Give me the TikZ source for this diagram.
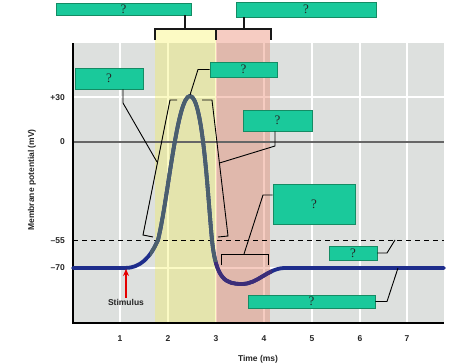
\documentclass[tikz,border=0pt]{standalone}
\usepackage{fontspec}
\setmainfont{Liberation Serif}
\setsansfont{Liberation Sans}
\usetikzlibrary{arrows.meta}
\definecolor{plotbg}{RGB}{221,224,222}
\definecolor{boxfill}{RGB}{26,201,155}
\definecolor{boxline}{RGB}{20,140,100}
\definecolor{cblue}{RGB}{30,45,140}
\definecolor{cslate}{RGB}{75,95,110}
\definecolor{cpurple}{RGB}{60,45,120}
\definecolor{shyellow}{RGB}{245,240,60}
\definecolor{shred}{RGB}{230,110,80}
\tikzset{
  qbox/.style={draw=boxline, line width=0.6pt, fill=boxfill, inner sep=0pt,
    font=\fontsize{13}{13}\selectfont, text=black!85},
  lbl/.style={font=\sffamily\bfseries\fontsize{8.5}{10}\selectfont, text=black!85, inner sep=0pt},
  callout/.style={draw=black, line width=0.9pt},
  brack/.style={draw=black!90, line width=1.4pt},
  grid/.style={draw=white, line width=1.6pt},
}
\def\apcurve{(73,268) -- (125,268) .. controls (140,268) and (150,258) .. (158,240)
  .. controls (168,200) and (177,96) .. (190,96)
  .. controls (203,96) and (208,200) .. (212,240)
  .. controls (216,280) and (226,284) .. (242,284)
  .. controls (258,284) and (268,268) .. (285,268) -- (444,268)}
\begin{document}
\begin{tikzpicture}[x=1pt,y=-1pt]
\useasboundingbox (0,0) rectangle (474,364);
% background
\fill[plotbg] (73,43) rectangle (444,323);
% white grid
\foreach \xx in {120,168,216,264,312,360,407} \draw[grid] (\xx,43) -- (\xx,323);
\draw[grid] (73,97) -- (444,97);
\draw[grid] (73,268) -- (444,268);
% shaded phases
\fill[shyellow, opacity=0.3] (155,28) rectangle (216,323);
\fill[shred, opacity=0.35] (216,28) rectangle (270,323);
% reference lines
\draw[black!60, line width=1.2pt] (73,142) -- (444,142);
\draw[black, line width=0.8pt, dash pattern=on 5pt off 4pt] (73,240) -- (444,240);
% axes
\draw[black, line width=2pt] (73,43) -- (73,323) -- (444,323);
% curve
\draw[cblue, line width=3.8pt, line cap=round, line join=round] \apcurve;
\begin{scope}
  \clip (150,0) rectangle (219,262);
  \draw[cslate, line width=3.8pt, line join=round] \apcurve;
\end{scope}
\begin{scope}
  \clip (214,262) rectangle (272,300);
  \draw[cpurple, line width=3.8pt, line join=round] \apcurve;
\end{scope}
% boxes
\node[qbox, minimum width=135pt, minimum height=12pt] (b1) at (123.5,9) {?};
\node[qbox, minimum width=140pt, minimum height=15pt] (b2) at (306,9.5) {?};
\node[qbox, minimum width=68pt, minimum height=21pt] (b3) at (109,78.5) {?};
\node[qbox, minimum width=67pt, minimum height=15pt] (b4) at (243.5,69.5) {?};
\node[qbox, minimum width=69pt, minimum height=21pt] (b5) at (277.5,120.5) {?};
\node[qbox, minimum width=82pt, minimum height=40pt] (b6) at (314,204) {?};
\node[qbox, minimum width=48pt, minimum height=14pt] (b7) at (353,253) {?};
\node[qbox, minimum width=127pt, minimum height=13pt] (b8) at (311.5,301.5) {?};
% top brackets
\coordinate (tl) at (155,29);
\coordinate (tm) at (216,29);
\coordinate (tr) at (271,29);
\draw[brack] (155,40) -- (tl) -- (tr) -- (271,40);
\draw[brack] (tm) -- (216,40);
\draw[brack] (b1.south -| 185,0) -- (185,29);
\draw[brack] (b2.south -| 244,0) -- (244,29);
% rising-phase bracket
\coordinate (lbA) at (177,100);
\coordinate (lbB) at (170,100);
\coordinate (lbC) at (143,235);
\coordinate (lbD) at (153,237);
\draw[callout] (lbA) -- (lbB) -- (lbC) -- (lbD);
\coordinate (lbHit) at (157,162);
\draw[callout] (b3.south -| 123,0) -- (123,103) -- (lbHit);
% falling-phase bracket
\coordinate (rbA) at (202,100);
\coordinate (rbB) at (212,100);
\coordinate (rbC) at (228,236);
\coordinate (rbD) at (218,237);
\draw[callout] (rbA) -- (rbB) -- (rbC) -- (rbD);
\coordinate (rbHit) at (219.5,163);
\draw[callout] (b5.south -| 275,0) -- (275,146) -- (rbHit);
% peak callout
\coordinate (peak) at (190,95);
\draw[callout] (b4.west) -- (198,69.5) -- (peak);
% undershoot bracket
\coordinate (ubL) at (221,254);
\coordinate (ubR) at (268,254);
\coordinate (ubHit) at (244,254);
\draw[callout] (221,265) -- (ubL) -- (ubR) -- (268,265);
\draw[callout] (b6.west |- 0,195) -- (263,195) -- (ubHit);
% threshold callout
\coordinate (thr) at (395,240);
\draw[callout] (b7.east) -- (387,253) -- (thr);
% resting callout
\coordinate (rest) at (398,268);
\draw[callout] (b8.east) -- (387,301.5) -- (rest);
% stimulus
\node[lbl] (stim) at (126,302) {Stimulus};
\coordinate (stimtip) at (126,269);
\draw[red!90!black, line width=1.6pt, -{Stealth[length=7pt,width=6pt]}] (stim.north) ++(0,-1) -- (stimtip);
% axis labels
\node[lbl, anchor=east] (y30) at (65,98) {+30};
\node[lbl, anchor=east] (y0) at (65,142) {0};
\node[lbl, anchor=east] (y55) at (65,241) {–55};
\node[lbl, anchor=east] (y70) at (65,268) {–70};
\foreach \xx/\t in {120/1,168/2,216/3,264/4,312/5,360/6,407/7}
  \node[lbl] (t\t) at (\xx,339) {\t};
\node[lbl] (xlab) at (258,359) {Time (ms)};
\node[lbl, rotate=90] (ylab) at (32,180) {Membrane potential (mV)};
\end{tikzpicture}
\end{document}
